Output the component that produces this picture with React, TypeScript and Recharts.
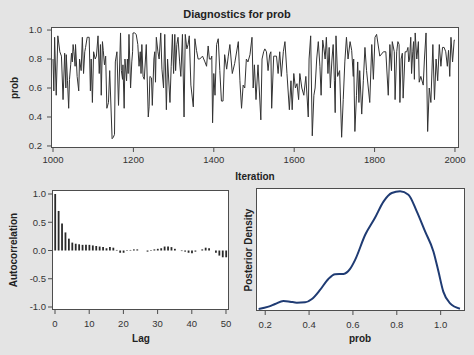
import React from 'react';
import { LineChart, Line, BarChart, Bar, XAxis, YAxis } from 'recharts';

// trace of prob (iteration, value)
const traceIter = [
  1000, 1002, 1004, 1008, 1012, 1017, 1021, 1025, 1029, 1032, 1033, 1036, 1039, 1041, 1044, 1046, 1048, 1050, 1052, 1055,
  1056, 1060, 1064, 1066, 1070, 1073, 1076, 1079, 1081, 1085, 1090, 1093, 1095, 1098, 1101, 1105, 1108, 1112, 1115, 1118,
  1120, 1123, 1125, 1128, 1129, 1131, 1134, 1138, 1141, 1147, 1150, 1153, 1155, 1159, 1163, 1168, 1170, 1173, 1174, 1177,
  1179, 1183, 1185, 1187, 1189, 1193, 1196, 1198, 1199, 1203, 1207, 1211, 1214, 1217, 1219, 1221, 1224, 1227, 1230, 1232,
  1237, 1239, 1241, 1245, 1247, 1251, 1253, 1255, 1257, 1261, 1264, 1268, 1271, 1275, 1278, 1282, 1285, 1289, 1291, 1294,
  1297, 1300, 1303, 1305, 1308, 1311, 1315, 1318, 1322, 1326, 1329, 1333, 1336, 1339, 1343, 1349, 1353, 1357, 1361, 1365,
  1372, 1378, 1382, 1386, 1389, 1393, 1395, 1397, 1400, 1403, 1407, 1411, 1415, 1419, 1423, 1427, 1432, 1436, 1440, 1446,
  1452, 1461, 1463, 1465, 1466, 1469, 1473, 1477, 1481, 1485, 1490, 1495, 1498, 1501, 1505, 1510, 1517, 1520, 1524, 1527,
  1531, 1535, 1539, 1542, 1544, 1549, 1556, 1560, 1564, 1568, 1573, 1577, 1582, 1588, 1592, 1595, 1599, 1603, 1607, 1611,
  1614, 1619, 1624, 1629, 1635, 1637, 1641, 1645, 1649, 1652, 1656, 1660, 1664, 1667, 1671, 1674, 1677, 1680, 1684, 1687,
  1690, 1694, 1697, 1700, 1702, 1704, 1708, 1713, 1718, 1722, 1726, 1730, 1734, 1739, 1743, 1747, 1748, 1751, 1755, 1758,
  1761, 1763, 1768, 1772, 1776, 1780, 1788, 1793, 1797, 1801, 1805, 1813, 1822, 1828, 1834, 1838, 1842, 1844, 1849, 1851,
  1855, 1858, 1861, 1863, 1866, 1869, 1871, 1876, 1880, 1883, 1885, 1887, 1890, 1892, 1895, 1897, 1899, 1901, 1905, 1909,
  1911, 1915, 1921, 1924, 1928, 1932, 1936, 1940, 1945, 1949, 1953, 1957, 1961, 1965, 1969, 1973, 1977, 1981, 1984, 1987,
  1990, 1994, 1998, 2000,
];
const traceProb = [
  0.80, 0.58, 0.95, 0.55, 0.96, 0.85, 0.82, 0.52, 0.84, 0.60, 0.83, 0.65, 0.46, 0.66, 0.76, 0.84, 0.78, 0.90, 0.85, 0.75,
  0.90, 0.68, 0.58, 0.80, 0.72, 0.95, 0.70, 0.85, 0.88, 0.95, 0.95, 0.58, 0.80, 0.50, 0.85, 0.80, 0.82, 0.96, 0.70, 0.90,
  0.55, 0.92, 0.86, 0.76, 0.78, 0.82, 0.46, 0.50, 0.72, 0.25, 0.26, 0.28, 0.78, 0.85, 0.48, 0.98, 0.72, 0.66, 0.76, 0.46,
  0.80, 0.65, 0.80, 0.70, 0.97, 0.60, 0.78, 0.85, 0.98, 0.98, 0.97, 0.90, 0.75, 0.85, 0.70, 0.90, 0.68, 0.66, 0.80, 0.90,
  0.40, 0.47, 0.68, 0.67, 0.48, 0.80, 0.85, 0.64, 0.95, 0.85, 0.80, 0.98, 0.73, 0.60, 0.97, 0.45, 0.80, 0.60, 0.50, 0.75,
  0.97, 0.70, 0.97, 0.72, 0.90, 0.95, 0.78, 0.68, 0.97, 0.40, 0.97, 0.87, 0.90, 0.96, 0.62, 0.47, 0.94, 0.86, 0.80, 0.80,
  0.82, 0.78, 0.75, 0.89, 0.80, 0.80, 0.82, 0.36, 0.70, 0.55, 0.90, 0.94, 0.72, 0.51, 0.51, 0.83, 0.73, 0.82, 0.90, 0.70,
  0.77, 0.92, 0.78, 0.65, 0.60, 0.46, 0.62, 0.60, 0.80, 0.78, 0.83, 0.95, 0.60, 0.76, 0.52, 0.76, 0.38, 0.80, 0.85, 0.87,
  0.85, 0.72, 0.83, 0.85, 0.46, 0.82, 0.82, 0.70, 0.85, 0.68, 0.85, 0.92, 0.70, 0.45, 0.65, 0.45, 0.70, 0.60, 0.63, 0.52,
  0.70, 0.60, 0.55, 0.68, 0.40, 0.80, 0.96, 0.27, 0.55, 0.60, 0.80, 0.92, 0.75, 0.55, 0.93, 0.87, 0.80, 0.95, 0.70, 0.88,
  0.60, 0.80, 0.90, 0.65, 0.43, 0.96, 0.68, 0.72, 0.26, 0.52, 0.78, 0.95, 0.80, 0.92, 0.86, 0.68, 0.80, 0.30, 0.55, 0.78,
  0.50, 0.72, 0.42, 0.65, 0.88, 0.72, 0.50, 0.90, 0.66, 0.95, 0.97, 0.82, 0.85, 0.85, 0.55, 0.90, 0.72, 0.92, 0.85, 0.52,
  0.85, 0.92, 0.90, 0.50, 0.80, 0.84, 0.53, 0.85, 0.85, 0.88, 0.78, 0.80, 0.95, 0.70, 0.85, 0.92, 0.66, 0.98, 0.80, 0.92,
  0.64, 0.68, 0.62, 0.80, 0.98, 0.30, 0.60, 0.50, 0.90, 0.52, 0.80, 0.65, 0.90, 0.75, 0.88, 0.88, 0.85, 0.75, 0.86, 0.68,
  0.95, 0.78, 0.93, 0.93,
];

// autocorrelation by lag 0..50
const acfValues = [
  1.0, 0.70, 0.48, 0.32, 0.21, 0.14, 0.12, 0.11, 0.10, 0.10, 0.10, 0.09, 0.08, 0.07, 0.06, 0.04, 0.06, 0.05, 0.01, -0.04,
  -0.04, -0.01, 0.01, 0.02, 0.02, 0.0, 0.0, -0.02, -0.01, 0.02, 0.03, 0.04, 0.07, 0.07, 0.06, 0.03, 0.0, -0.01, -0.02, -0.04,
  -0.05, -0.02, 0.0, 0.02, 0.05, 0.04, 0.0, -0.04, -0.09, -0.12, -0.12,
];

// posterior density curve
const densX = [0.17, 0.215, 0.245, 0.283, 0.313, 0.344, 0.382, 0.413, 0.45, 0.488, 0.519, 0.557, 0.587, 0.61, 0.656, 0.70, 0.74, 0.777, 0.815, 0.853, 0.891, 0.929, 0.967, 0.99, 1.012, 1.043, 1.088];
const densY = [0.03, 0.10, 0.18, 0.27, 0.25, 0.22, 0.23, 0.33, 0.60, 0.93, 1.07, 1.08, 1.23, 1.50, 2.25, 2.75, 3.25, 3.50, 3.55, 3.45, 2.95, 2.35, 1.75, 1.15, 0.55, 0.20, 0.04];

const iterTicks = [1000, 1200, 1400, 1600, 1800, 2000];
const probTicks = [0.2, 0.4, 0.6, 0.8, 1.0];
const lagTicks = [0, 10, 20, 30, 40, 50];
const acfTicks = [-1.0, -0.5, 0.0, 0.5, 1.0];
const densTicks = [0.2, 0.4, 0.6, 0.8, 1.0];

const FONT = '"Liberation Sans", Arial, sans-serif';
const INK = '#222';
const FRAME = '#4d4d4d';

const tickStyle = { fontSize: 9.5, fill: '#333', fontFamily: FONT };

const traceData = traceIter.map((it, i) => ({ iter: it, prob: traceProb[i] }));
const acfData = acfValues.map((v, i) => ({ lag: i, acf: v }));
const densData = densX.map((x, i) => ({ x, d: densY[i] }));

const fmt1 = (v: number) => v.toFixed(1);

// white plot frame drawn under each svg
const Frame = ({ left, top, width, height }: { left: number; top: number; width: number; height: number }) => (
  <div style={{ position: 'absolute', left, top, width, height, boxSizing: 'border-box', background: '#fff', border: `1px solid ${FRAME}` }} />
);

const Label = ({ x, y, text, rotate }: { x: number; y: number; text: string; rotate?: boolean }) => (
  <div
    style={{
      position: 'absolute', left: x, top: y, transform: `translate(-50%, -50%)${rotate ? ' rotate(-90deg)' : ''}`,
      fontFamily: FONT, fontWeight: 'bold', fontSize: 10, color: INK, whiteSpace: 'nowrap', lineHeight: 1,
    }}
  >
    {text}
  </div>
);

export default function App() {
  return (
    <div style={{ position: 'absolute', left: 0, top: 0, width: 474, height: 355, background: '#e4e4e4', overflow: 'hidden' }}>
      <div style={{ position: 'absolute', left: 237, top: 14, transform: 'translate(-50%, -50%)', fontFamily: FONT, fontWeight: 'bold', fontSize: 11, color: INK, whiteSpace: 'nowrap' }}>
        Diagnostics for prob
      </div>

      {/* trace plot */}
      <Frame left={51} top={27} width={408} height={121} />
      <div style={{ position: 'absolute', left: 0, top: 0 }}>
        <LineChart width={474} height={175} data={traceData} margin={{ top: 27, right: 15, left: 0, bottom: 0 }}>
          <XAxis dataKey="iter" type="number" domain={[995, 2010]} ticks={iterTicks} interval={0} allowDataOverflow
            axisLine={false} tickSize={4} tickMargin={4} tickLine={{ stroke: FRAME }} tick={tickStyle} height={27} />
          <YAxis type="number" domain={[0.186, 1.021]} ticks={probTicks} interval={0} allowDataOverflow tickFormatter={fmt1}
            axisLine={false} tickSize={4} tickMargin={5} tickLine={{ stroke: FRAME }} tick={tickStyle} width={51} />
          <Line dataKey="prob" type="linear" stroke="#333" strokeWidth={1} dot={false} isAnimationActive={false} />
        </LineChart>
      </div>
      <Label x={255} y={177} text="Iteration" />
      <Label x={15} y={88} text="prob" rotate />

      {/* autocorrelation */}
      <Frame left={52} top={190} width={177} height={120} />
      <div style={{ position: 'absolute', left: 0, top: 175 }}>
        <BarChart width={240} height={180} data={acfData} barSize={1.8} margin={{ top: 15, right: 11, left: 0, bottom: 0 }}>
          <XAxis dataKey="lag" type="number" domain={[-0.88, 50.88]} ticks={lagTicks} interval={0} allowDataOverflow
            axisLine={false} tickSize={4} tickMargin={6} tickLine={{ stroke: FRAME }} tick={tickStyle} height={45} />
          <YAxis type="number" domain={[-1.053, 1.071]} ticks={acfTicks} interval={0} allowDataOverflow tickFormatter={fmt1}
            axisLine={false} tickSize={4} tickMargin={2} tickLine={{ stroke: FRAME }} tick={tickStyle} width={52} />
          <Bar dataKey="acf" fill="#2a2a2a" isAnimationActive={false} />
        </BarChart>
      </div>
      <Label x={141} y={339} text="Lag" />
      <Label x={14} y={250} text="Autocorrelation" rotate />

      {/* posterior density */}
      <Frame left={256} top={188} width={209} height={123} />
      <div style={{ position: 'absolute', left: 240, top: 175 }}>
        <LineChart width={234} height={180} data={densData} margin={{ top: 13, right: 9, left: 16, bottom: 0 }}>
          <XAxis dataKey="x" type="number" domain={[0.158, 1.111]} ticks={densTicks} interval={0} allowDataOverflow tickFormatter={fmt1}
            axisLine={false} tickSize={4} tickMargin={6} tickLine={{ stroke: FRAME }} tick={tickStyle} height={44} />
          <YAxis type="number" domain={[-0.03, 3.65]} allowDataOverflow hide />
          <Line dataKey="d" type="monotone" stroke="#1f3b73" strokeWidth={2} dot={false} isAnimationActive={false} />
        </LineChart>
      </div>
      <Label x={360} y={339} text="prob" />
      <Label x={249} y={250} text="Posterior Density" rotate />
    </div>
  );
}
